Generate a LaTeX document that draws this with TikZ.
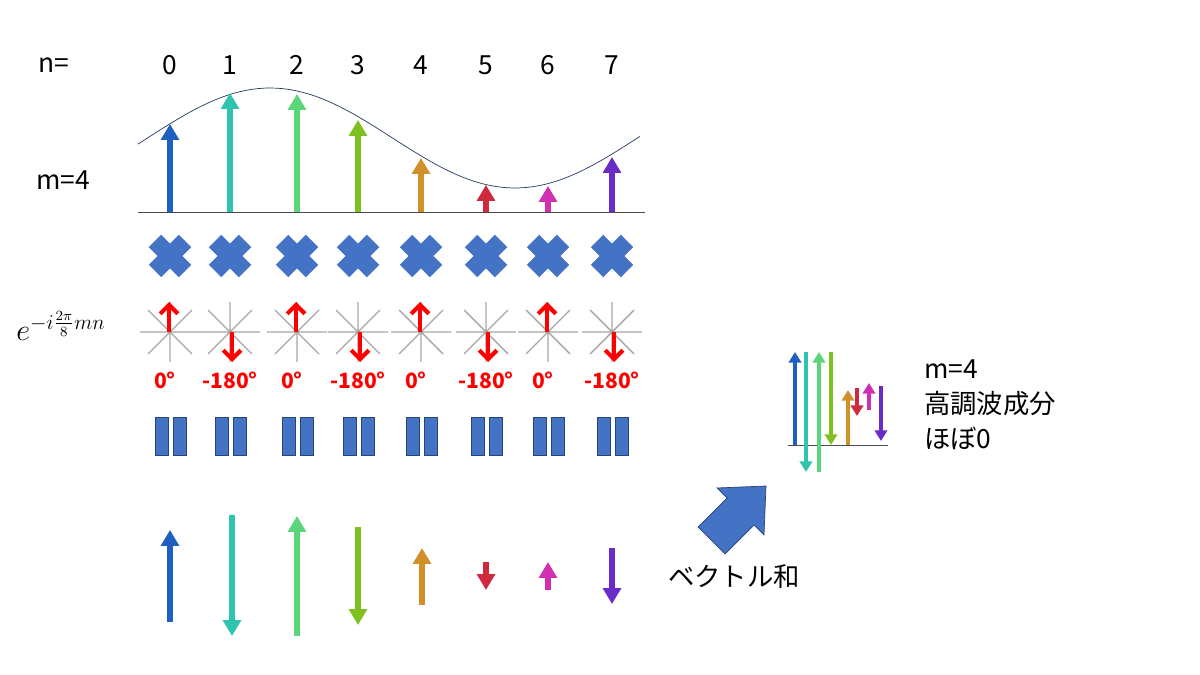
\documentclass[tikz,border=0pt]{standalone}
\usepackage{fontspec}
\setmainfont{Noto Sans CJK JP}
\usepackage{amsmath}
\usetikzlibrary{arrows.meta}
\definecolor{c1}{HTML}{1F5FC0}\definecolor{c2}{HTML}{2EC4B0}\definecolor{c3}{HTML}{5AD57A}
\definecolor{c4}{HTML}{80C020}\definecolor{c5}{HTML}{D0902A}\definecolor{c6}{HTML}{D0283C}
\definecolor{c7}{HTML}{D030B0}\definecolor{c8}{HTML}{6A2CC8}\definecolor{xb}{HTML}{4472C4}
\begin{document}
\begin{tikzpicture}[x=0.02cm,y=-0.02cm,
 va/.style={line width=3pt,-{Triangle[length=9pt,width=10pt]}},
 vs/.style={line width=2.2pt,-{Triangle[length=6pt,width=7pt]}},
 ra/.style={red,line width=2.4pt,-{Straight Barb[length=5pt,width=10pt,line width=2.4pt]}},
 lbl/.style={font=\fontsize{15}{15}\selectfont},
 deg/.style={red,font=\bfseries\fontsize{12}{12}\selectfont},
 xm/.style={xb,line width=10pt}]
\useasboundingbox (0,0) rectangle (1200,675);
\node[lbl,anchor=west] (nlab) at (32,65) {n=};
\node[lbl,anchor=west] (mlab) at (30,180) {m=4};
\node[anchor=west,font=\fontsize{17}{17}\selectfont,inner sep=0pt] (ex) at (16,326) {$e^{-i\frac{2\pi}{8}mn}$};
\draw[gray!60!black,thin] (138,212) -- (645,212);
\draw[xb!50!black,thin,domain=138:640,samples=80] plot (\x,{138-50*cos(deg(2*pi*(\x-270)/490))});
\foreach \i/\x/\t/\c/\r in {0/170/124/c1/0,1/230/93/c2/1,2/297/94/c3/0,3/358/120/c4/1,4/421/158/c5/0,5/486/185/c6/1,6/548/186/c7/0,7/612/157/c8/1}{
 \node[lbl] (n\i) at (\x,65) {\i};
 \draw[va,\c] (\x,212) -- (\x,\t);
 \draw[xm] (\x-15,241)--(\x+15,271); \draw[xm] (\x-15,271)--(\x+15,241);
 \coordinate (p\i) at (\x,332);
 \draw[gray!70,line width=0.8pt] (\x-30,332)--(\x+30,332) (\x,302)--(\x,362) (\x-22,310)--(\x+22,354) (\x-22,354)--(\x+22,310);
 \ifnum\r=0 \draw[ra] (\x-1,332) -- ++(0,-30); \node[deg] at (\x-5,380) {0°};
 \else \draw[ra] (\x+2,332) -- ++(0,30); \node[deg] at (\x,380) {-180°}; \fi
 \draw[fill=xb,draw=xb!60!black] (\x-15,417) rectangle (\x-2,455) (\x+3,417) rectangle (\x+16,455);
}
\draw[va,c1] (170,622)--(170,530);
\draw[va,c2] (232,515)--(232,636);
\draw[va,c3] (297,636)--(297,516);
\draw[va,c4] (358,527)--(358,625);
\draw[va,c5] (422,605)--(422,548);
\draw[va,c6] (486,562)--(486,590);
\draw[va,c7] (548,590)--(548,562);
\draw[va,c8] (612,548)--(612,604);
\node[lbl,anchor=west] (vs) at (662,577) {ベクトル和};
\fill[xb,draw=xb!60!black] (698,527) -- (727,498) -- (717,488) -- (766,486) -- (764,535) -- (754,525) -- (725,554) -- cycle;
\draw[gray!60!black] (788,445)--(888,445);
\draw[vs,c1] (795,445)--(795,352);
\draw[vs,c2] (806,352)--(806,472);
\draw[vs,c3] (819,472)--(819,352);
\draw[vs,c4] (831,352)--(831,445);
\draw[vs,c5] (848,445)--(848,390);
\draw[vs,c6] (857,388)--(857,416);
\draw[vs,c7] (869,410)--(869,383);
\draw[vs,c8] (881,386)--(881,441);
\node[anchor=west,align=left,font=\fontsize{15}{20}\selectfont] (res) at (918,405) {m=4\\高調波成分\\ほぼ0};
\end{tikzpicture}
\end{document}
